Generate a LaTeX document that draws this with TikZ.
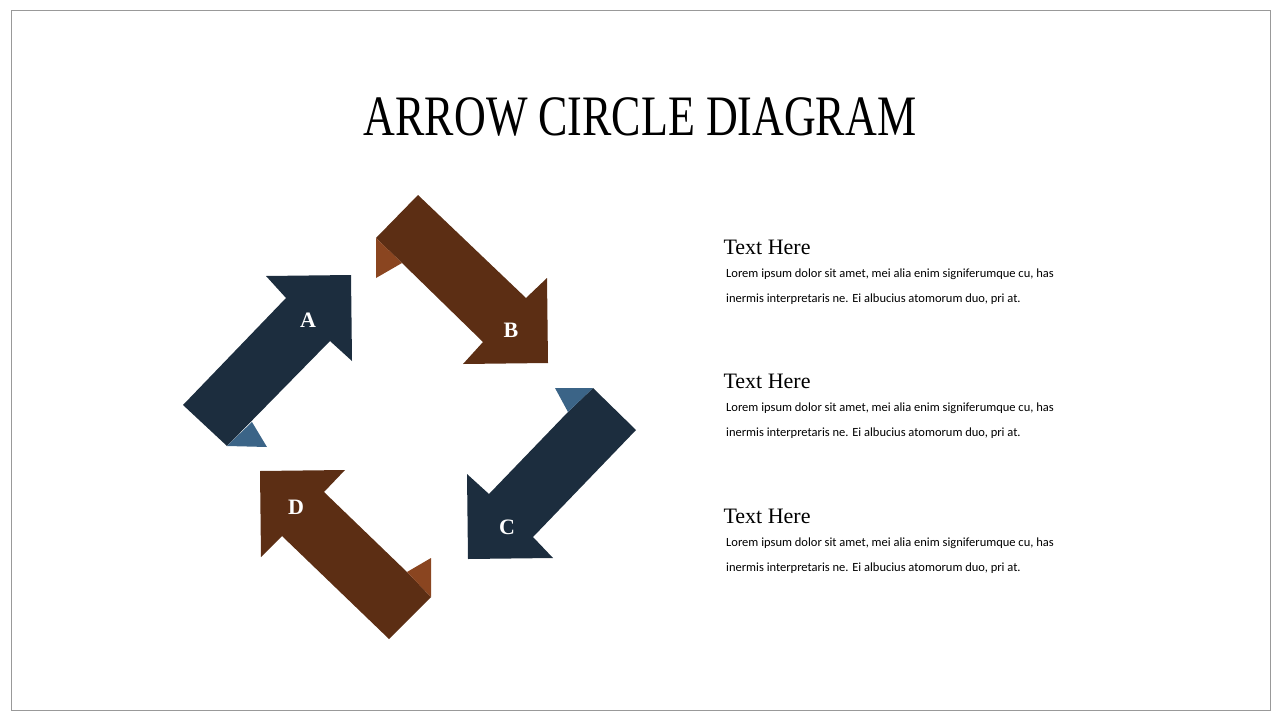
\documentclass[tikz,border=0pt]{standalone}
\usepackage{fontspec}
\setmainfont{Liberation Serif}
\newfontfamily\bodyfont{Carlito}
\definecolor{navy}{HTML}{1C2D3E}
\definecolor{brownA}{HTML}{5C2E14}
\definecolor{foldblue}{HTML}{3B6487}
\definecolor{foldbrown}{HTML}{8A4520}
\tikzset{
  lbl/.style={text=white,font=\fontsize{22}{22}\selectfont\bfseries},
  head/.style={anchor=west,font=\fontsize{22}{22}\selectfont},
  body/.style={anchor=north west,font=\bodyfont\fontsize{12.5}{25}\selectfont,align=left,inner sep=0pt}
}
\begin{document}
\begin{tikzpicture}[x=1pt,y=-1pt]
\useasboundingbox (0,0) rectangle (1280,720);
\draw[gray!80,line width=1pt] (11,10) rectangle (1270,710);
\node (title) at (640,117) {\scalebox{1}[1.3]{\fontsize{44}{44}\selectfont ARROW CIRCLE DIAGRAM}};
% A
\fill[navy] (183,405) -- (286,298) -- (266,276) -- (351,275) -- (352,361) -- (330,341) -- (227,446) -- cycle;
\fill[foldblue] (227,446) -- (252,422) -- (267,447) -- cycle;
% B
\fill[brownA] (376,238) -- (418,195) -- (526,298) -- (547,278) -- (548,363) -- (463,364) -- (483,342) -- (402,263) -- cycle;
\fill[foldbrown] (376,238) -- (402,263) -- (376,278) -- cycle;
% C
\fill[navy] (593,388) -- (636,430) -- (533,537) -- (553,558) -- (468,559) -- (467,474) -- (489,494) -- (568,412) -- cycle;
\fill[foldblue] (593,388) -- (568,412) -- (555,388) -- cycle;
% D
\fill[brownA] (431,597) -- (389,639) -- (282,536) -- (261,557) -- (260,471) -- (345,470) -- (324,492) -- (407,572) -- cycle;
\fill[foldbrown] (431,597) -- (407,572) -- (431,558) -- cycle;
\node[lbl] (la) at (308,320) {A};
\node[lbl] (lb) at (511,330) {B};
\node[lbl] (lc) at (507,527) {C};
\node[lbl] (ld) at (296,507) {D};
\foreach \y/\n in {247/1,381/2,516/3}{
  \node[head] (h\n) at (720,\y) {Text Here};
  \node[body] (b\n) at (726,\y+22) {Lorem ipsum dolor sit amet, mei alia enim signiferumque cu, has\\inermis interpretaris ne. Ei albucius atomorum duo, pri at.};
}
\end{tikzpicture}
\end{document}
